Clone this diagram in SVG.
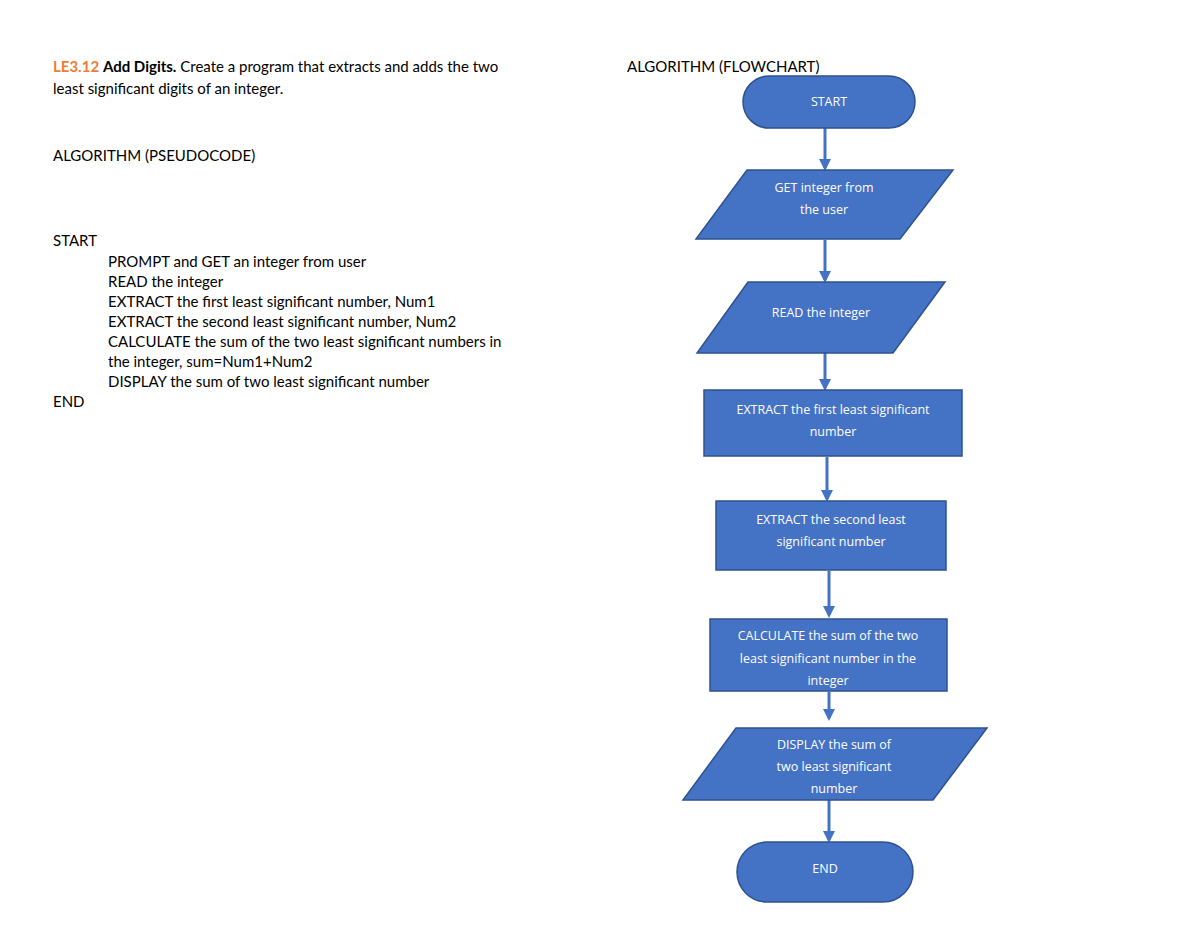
<svg xmlns="http://www.w3.org/2000/svg" width="1200" height="927" viewBox="0 0 1200 927">
<style>
.t{font-family:Lato,"Liberation Sans",sans-serif;font-size:15px;fill:#000}
.s{fill:#4472C4;stroke:#2F528F;stroke-width:1.5}
.w{font-family:"Open Sans","Liberation Sans",sans-serif;font-size:12.5px;fill:#fff;text-anchor:middle}
.c{stroke:#4472C4;stroke-width:3;fill:none;marker-end:url(#a)}
</style>
<defs><marker id="a" markerWidth="4" markerHeight="4" refX="3" refY="2" orient="auto"><path d="M0,0L4,2L0,4z" fill="#4472C4"/></marker></defs>
<rect width="1200" height="927" fill="#fff"/>
<text class="t" x="53" y="72"><tspan fill="#ED7D31" font-weight="bold">LE3.12</tspan> <tspan font-weight="bold">Add Digits.</tspan> Create a program that extracts and adds the two</text>
<text class="t" x="53" y="94">least significant digits of an integer.</text>
<text class="t" x="53" y="161">ALGORITHM (PSEUDOCODE)</text>
<text class="t" x="53" y="246">START</text>
<text class="t" x="108" y="267">PROMPT and GET an integer from user</text>
<text class="t" x="108" y="287">READ the integer</text>
<text class="t" x="108" y="307">EXTRACT the first least significant number, Num1</text>
<text class="t" x="108" y="327">EXTRACT the second least significant number, Num2</text>
<text class="t" x="108" y="347">CALCULATE the sum of the two least significant numbers in</text>
<text class="t" x="108" y="367">the integer, sum=Num1+Num2</text>
<text class="t" x="108" y="387">DISPLAY the sum of two least significant number</text>
<text class="t" x="53" y="407">END</text>
<text class="t" x="627" y="72">ALGORITHM (FLOWCHART)</text>
<g id="connectors">
<path class="c" d="M825,128V168"/>
<path class="c" d="M825,240V280"/>
<path class="c" d="M825,353V388"/>
<path class="c" d="M827,457V499"/>
<path class="c" d="M829,571V615"/>
<path class="c" d="M829,692V718"/>
<path class="c" d="M829,800V840"/>
</g>
<g id="start"><rect class="s" x="743" y="76" width="172" height="52" rx="26"/><text class="w" x="829" y="106">START</text></g>
<g id="get"><path class="s" d="M747,170H953L900,239H696z"/><text class="w" x="824" y="192">GET integer from</text><text class="w" x="824" y="214">the user</text></g>
<g id="read"><path class="s" d="M748,282H945L893,353H697z"/><text class="w" x="821" y="317">READ the integer</text></g>
<g id="extract1"><rect class="s" x="704" y="390" width="258" height="66"/><text class="w" x="833" y="414">EXTRACT the first least significant</text><text class="w" x="833" y="436">number</text></g>
<g id="extract2"><rect class="s" x="716" y="501" width="230" height="69"/><text class="w" x="831" y="524">EXTRACT the second least</text><text class="w" x="831" y="546">significant number</text></g>
<g id="calc"><rect class="s" x="710" y="619" width="237" height="72"/><text class="w" x="828" y="640">CALCULATE the sum of the two</text><text class="w" x="828" y="663">least significant number in the</text><text class="w" x="828" y="685">integer</text></g>
<g id="display"><path class="s" d="M736,728H987L933,800H683z"/><text class="w" x="834" y="749">DISPLAY the sum of</text><text class="w" x="834" y="771">two least significant</text><text class="w" x="834" y="793">number</text></g>
<g id="end"><rect class="s" x="737" y="842" width="176" height="60" rx="30"/><text class="w" x="825" y="873">END</text></g>
</svg>
